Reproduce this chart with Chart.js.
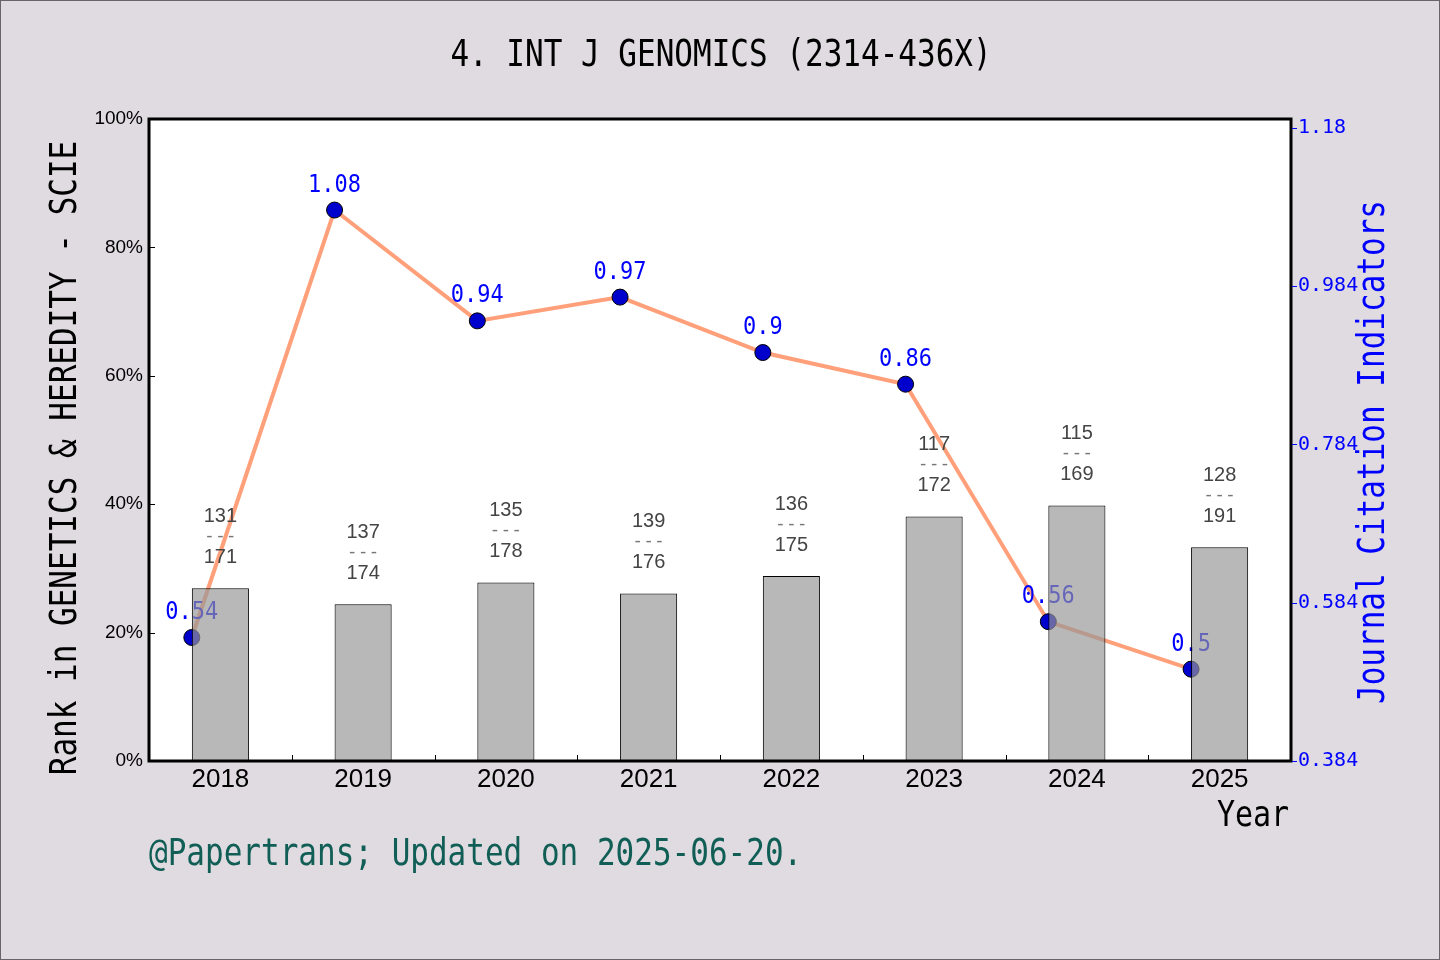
<!DOCTYPE html>
<html>
<head>
<meta charset="utf-8">
<script src="https://cdn.jsdelivr.net/npm/chart.js@4/dist/chart.umd.min.js"></script>
<style>
  html, body { margin: 0; padding: 0; background: #dfdbe0; }
  canvas { display: block; }
</style>
</head>
<body>
<canvas id="jcrChart" width="1440" height="960"></canvas>
<script>
  const years = ["2018", "2019", "2020", "2021", "2022", "2023", "2024", "2025"];
  const rankPercent = [26.9, 24.4, 27.8, 26.1, 28.8, 38.1, 39.8, 33.3];
  const rankPosition = [131, 137, 135, 139, 136, 117, 115, 128];
  const rankTotal = [171, 174, 178, 176, 175, 172, 169, 191];
  const jciValues = [0.54, 1.08, 0.94, 0.97, 0.9, 0.86, 0.56, 0.5];
  const leftTicks = [0, 20, 40, 60, 80, 100];
  const rightTicks = [0.384, 0.584, 0.784, 0.984, 1.184];

  const MONO = "'DejaVu Sans Mono', monospace";
  const SANS = "'Liberation Sans', Arial, sans-serif";

  // mono text, stretched a little along the glyph height like the original font
  function tallText(ctx, text, x, y, opts) {
    ctx.save();
    ctx.translate(x, y);
    if (opts.rotate) ctx.rotate(opts.rotate);
    ctx.scale(1, opts.stretch || 1.2);
    ctx.font = opts.font;
    ctx.fillStyle = opts.color;
    ctx.textAlign = opts.align || "center";
    ctx.textBaseline = "middle";
    ctx.fillText(text, 0, 0);
    ctx.restore();
  }

  const decorPlugin = {
    id: "decor",
    beforeDraw(chart) {
      const { ctx, chartArea: a, width, height } = chart;
      ctx.save();
      ctx.fillStyle = "#dfdbe0";
      ctx.fillRect(0, 0, width, height);
      ctx.strokeStyle = "#666";
      ctx.lineWidth = 1;
      ctx.strokeRect(0.5, 0.5, width - 1, height - 1);
      ctx.fillStyle = "#ffffff";
      ctx.fillRect(a.left, a.top, a.right - a.left, a.bottom - a.top);
      ctx.restore();
    },
    afterDatasetDraw(chart, args) {
      // value labels of the line go under the (semi transparent) bars
      if (args.index !== 1) return;
      const { ctx } = chart;
      chart.getDatasetMeta(1).data.forEach((pt, i) => {
        tallText(ctx, String(jciValues[i]), pt.x, pt.y - 25, {
          font: `22px ${MONO}`, color: "#0000ff", stretch: 1.15
        });
      });
    },
    afterDatasetsDraw(chart) {
      const { ctx, chartArea: a, scales } = chart;
      ctx.save();

      // rank fractions above bars
      const bars = chart.getDatasetMeta(0);
      ctx.textAlign = "center";
      ctx.textBaseline = "middle";
      bars.data.forEach((bar, i) => {
        const cy = bar.y - 31;
        ctx.fillStyle = "#444";
        ctx.font = `20px ${SANS}`;
        ctx.fillText(String(rankTotal[i]), bar.x, cy);
        ctx.fillText(String(rankPosition[i]), bar.x, cy - 41);
        ctx.fillStyle = "#777";
        ctx.font = `18px ${MONO}`;
        ctx.fillText("---", bar.x, cy - 21);
      });

      // frame
      ctx.strokeStyle = "#000";
      ctx.lineWidth = 3;
      ctx.strokeRect(a.left, a.top, a.right - a.left, a.bottom - a.top);

      // inward ticks on x and left axes, outward on the right
      ctx.lineWidth = 1;
      const x = scales.x;
      for (let i = 0; i < years.length - 1; i++) {
        const px = Math.round((x.getPixelForValue(i) + x.getPixelForValue(i + 1)) / 2) + 0.5;
        ctx.beginPath();
        ctx.moveTo(px, a.bottom);
        ctx.lineTo(px, a.bottom - 6);
        ctx.stroke();
      }
      leftTicks.forEach((v) => {
        const py = Math.round(scales.y.getPixelForValue(v)) + 0.5;
        ctx.beginPath();
        ctx.moveTo(a.left, py);
        ctx.lineTo(a.left + 6, py);
        ctx.stroke();
      });
      ctx.strokeStyle = "#0000ff";
      rightTicks.forEach((v) => {
        const py = Math.round(scales.y1.getPixelForValue(v)) + 0.5;
        ctx.beginPath();
        ctx.moveTo(a.right + 1, py);
        ctx.lineTo(a.right + 6, py);
        ctx.stroke();
      });
      ctx.restore();

      // titles
      tallText(ctx, "4. INT J GENOMICS (2314-436X)", 721, 56, { font: `31px ${MONO}`, color: "#000" });
      tallText(ctx, "Year", 1253, 817, { font: `30px ${MONO}`, color: "#000" });
      tallText(ctx, "Rank in GENETICS & HEREDITY - SCIE", 66, 458, {
        font: `31px ${MONO}`, color: "#000", rotate: -Math.PI / 2
      });
      tallText(ctx, "Journal Citation Indicators", 1374, 452, {
        font: `31px ${MONO}`, color: "#0000ff", rotate: -Math.PI / 2
      });
      tallText(ctx, "@Papertrans; Updated on 2025-06-20.", 149, 855, {
        font: `31px ${MONO}`, color: "#105e55", align: "left"
      });
    }
  };

  new Chart(document.getElementById("jcrChart"), {
    type: "bar",
    data: {
      labels: years,
      datasets: [
        {
          type: "bar",
          data: rankPercent,
          xAxisID: "x",
          yAxisID: "y",
          order: 0,
          grouped: false,
          backgroundColor: "rgba(150, 150, 152, 0.68)",
          borderColor: "#000",
          borderWidth: 1,
          borderSkipped: false,
          barPercentage: 0.4,
          categoryPercentage: 1
        },
        {
          type: "line",
          data: jciValues.map((v, i) => ({ x: i - 0.2, y: v })),
          xAxisID: "xl",
          yAxisID: "y1",
          order: 1,
          borderColor: "#ffa07a",
          borderWidth: 4,
          tension: 0,
          pointRadius: 8,
          pointBackgroundColor: "#0000cd",
          pointBorderColor: "#000",
          pointBorderWidth: 1
        }
      ]
    },
    options: {
      responsive: false,
      animation: false,
      layout: { padding: { top: 119, left: 0, right: 0, bottom: 0 } },
      plugins: { legend: { display: false }, tooltip: { enabled: false } },
      scales: {
        x: {
          type: "category",
          offset: true,
          grid: { display: false, tickLength: 0 },
          border: { display: false },
          ticks: {
            color: "#000",
            padding: 3,
            maxRotation: 0,
            font: { family: SANS, size: 26 }
          },
          afterFit(scale) { scale.height = 199; }
        },
        xl: {
          type: "linear",
          display: false,
          offset: false,
          grid: { offset: false },
          min: -0.5,
          max: 7.5
        },
        y: {
          position: "left",
          min: 0,
          max: 100,
          grid: { display: false, tickLength: 0 },
          border: { display: false },
          afterBuildTicks(scale) { scale.ticks = leftTicks.map((v) => ({ value: v })); },
          ticks: {
            color: "#000",
            padding: 6,
            font: { family: SANS, size: 19 },
            callback: (v) => `${v}%`
          },
          afterFit(scale) { scale.width = 149; }
        },
        y1: {
          position: "right",
          min: 0.384,
          max: 1.195,
          grid: { display: false, tickLength: 0 },
          border: { display: false },
          afterBuildTicks(scale) { scale.ticks = rightTicks.map((v) => ({ value: v })); },
          ticks: {
            color: "#0000ff",
            padding: 7,
            font: { family: MONO, size: 20 },
            callback: (v) => String(Number(v.toPrecision(3)))
          },
          afterFit(scale) { scale.width = 149; }
        }
      }
    },
    plugins: [decorPlugin]
  });
</script>
</body>
</html>
